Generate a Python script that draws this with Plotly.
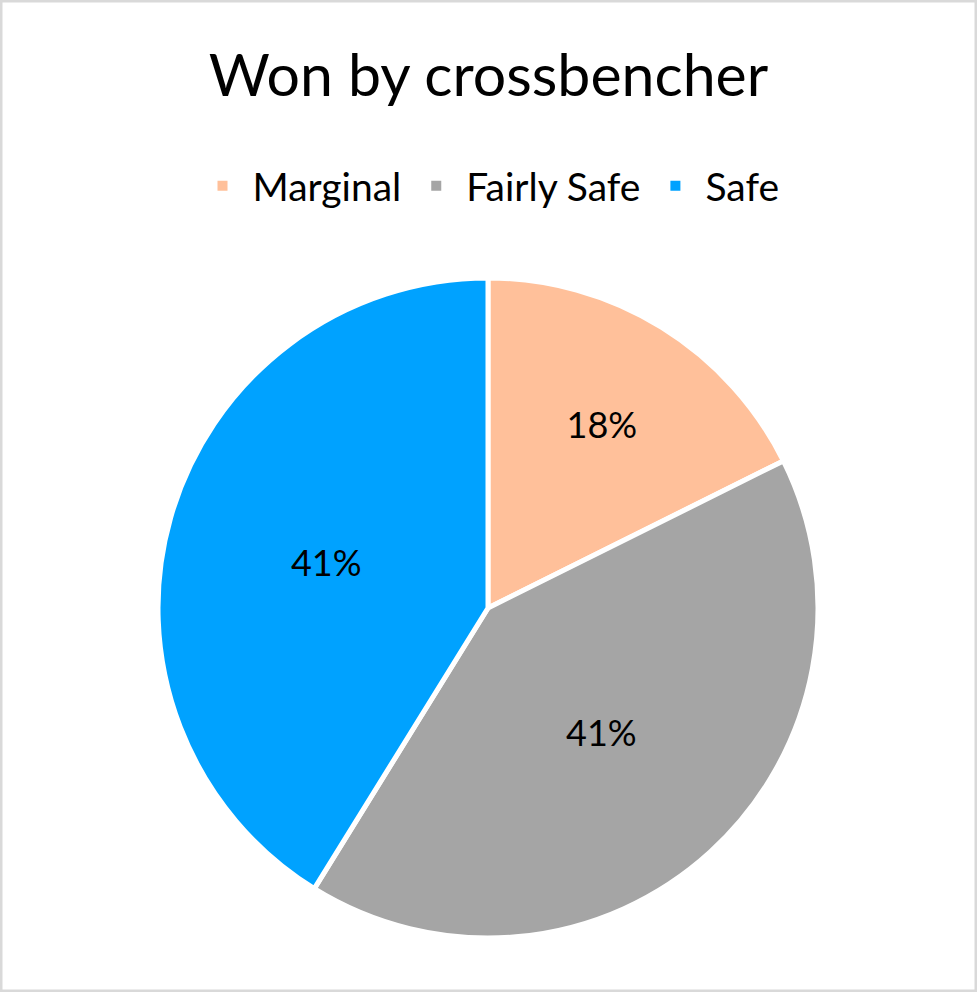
import plotly.graph_objects as go

categories = ["Marginal", "Fairly Safe", "Safe"]
values = [3, 7, 7]
colors = ["#FFC09A", "#A5A5A5", "#00A2FF"]
title_text = "Won by crossbencher"

W, H = 977, 992
cx, cy, R = 488, 608, 330

fig = go.Figure(go.Pie(
    labels=categories,
    values=values,
    sort=False,
    direction="clockwise",
    rotation=0,
    marker=dict(colors=colors, line=dict(color="white", width=5)),
    textinfo="percent",
    texttemplate="%{percent:.0%}",
    textposition="inside",
    insidetextorientation="horizontal",
    textfont=dict(family="Lato", size=36, color="black"),
    domain=dict(x=[(cx - R) / W, (cx + R) / W], y=[(H - cy - R) / H, (H - cy + R) / H]),
    hoverinfo="skip",
))

fig.update_layout(
    width=W, height=H,
    margin=dict(l=0, r=0, t=0, b=0),
    paper_bgcolor="white",
    plot_bgcolor="white",
    font=dict(family="Lato", color="black"),
    title=dict(text=title_text, x=0.5, xanchor="center", y=1 - 75 / H, yanchor="middle",
               font=dict(family="Lato", size=59, color="black")),
    showlegend=True,
    legend=dict(orientation="h", x=0.5, xanchor="center", y=1 - 186 / H, yanchor="middle",
                font=dict(family="Lato", size=39, color="black"),
                itemsizing="constant", itemwidth=50, traceorder="normal"),
    shapes=[dict(type="rect", xref="paper", yref="paper", x0=0, y0=0, x1=1, y1=1,
                 line=dict(color="#D9D9D9", width=5), fillcolor="rgba(0,0,0,0)")],
)

fig.write_html("out.html", config={"displayModeBar": False},
               post_script="document.body.style.margin='0';document.body.style.overflow='hidden';")
